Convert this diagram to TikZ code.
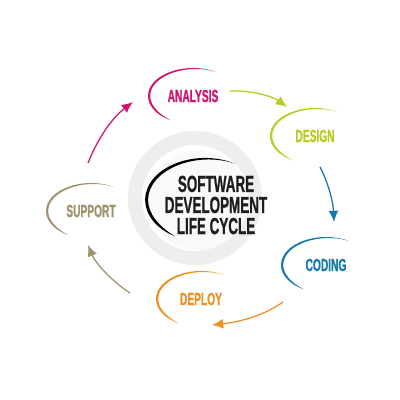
\documentclass[tikz,border=0pt]{standalone}
\usepackage{fontspec}
\setmainfont{Liberation Sans}[BoldFeatures={FakeBold=1.2}]
\usetikzlibrary{arrows.meta}

\definecolor{analysiscol}{RGB}{206,22,112}
\definecolor{designcol}{RGB}{184,204,32}
\definecolor{codingcol}{RGB}{22,122,168}
\definecolor{deploycol}{RGB}{236,146,32}
\definecolor{supportcol}{RGB}{160,148,110}
\definecolor{titlecol}{RGB}{30,30,30}

% condensed capitals
\newcommand{\cond}[1]{\scalebox{0.58}[1]{#1}}

\tikzset{
  stage/.style={font=\fontsize{12.5}{12.5}\selectfont\bfseries, inner sep=0pt},
  flow/.style={line width=0.9pt, -{Latex[length=8pt,width=7pt]}},
  swoosh/.pic={
    \fill (22.5,-24.25) .. controls (-7.5,-35) and (-45,-21.55) .. (-45,0)
      .. controls (-45,10) and (-36.4,19.2) .. (-22.5,24.25)
      .. controls (-35,17.5) and (-42.8,9) .. (-42.8,0)
      .. controls (-42.8,-20) and (-7,-33) .. (22.5,-24.25) -- cycle;
  }
}

\begin{document}
\begin{tikzpicture}[x=0.025cm, y=-0.025cm]
    \fill[white] (0,0) rectangle (400,400);
    \useasboundingbox (0,0) rectangle (400,400);
    % the grey swirl in the middle
    \draw[gray!13, line width=0.35cm] (195,198) circle [radius=60];
    \fill[gray!5] (198,200) circle [radius=50];
    % the black swoosh and the title
    \pic[color=black, xscale=1.33, yscale=1.5] at (205,200) {swoosh};
    \node[font=\fontsize{16.5}{15}\selectfont\bfseries, text=titlecol, align=center,
          inner sep=0pt] (sdlc) at (216,205)
          {\cond{SOFTWARE}\\\cond{DEVELOPMENT}\\\cond{LIFE CYCLE}};
    % the stages
    \node[stage, text=analysiscol] (analysis) at (193,96) {\cond{ANALYSIS}};
    \node[stage, text=designcol] (design) at (315,136) {\cond{DESIGN}};
    \node[stage, text=codingcol] (coding) at (326,265) {\cond{CODING}};
    \node[stage, text=deploycol] (deploy) at (201,299) {\cond{DEPLOY}};
    \node[stage, text=supportcol] (support) at (91,211) {\cond{SUPPORT}};
    % the swooshes round the stages
    \pic[color=analysiscol] at (analysis) {swoosh};
    \pic[color=designcol] at (design) {swoosh};
    \pic[color=codingcol] at (coding) {swoosh};
    \pic[color=deploycol] at (deploy) {swoosh};
    \pic[color=supportcol] at (support) {swoosh};
    % ends of the arrows
    \coordinate (s1) at (88,163);  \coordinate (e1) at (133,102);
    \coordinate (s2) at (230,91);  \coordinate (e2) at (287,107);
    \coordinate (s3) at (320,167); \coordinate (e3) at (334,222);
    \coordinate (s4) at (283,302); \coordinate (e4) at (212,325);
    \coordinate (s5) at (130,293); \coordinate (e5) at (88,245);
    % draw the arrows
    \draw[flow, analysiscol] (s1) .. controls (98,138) and (112,118) .. (e1);
    \draw[flow, designcol] (s2) .. controls (250,90) and (272,96) .. (e2);
    \draw[flow, codingcol] (s3) .. controls (327,180) and (333,200) .. (e3);
    \draw[flow, deploycol] (s4) .. controls (265,315) and (240,322) .. (e4);
    \draw[flow, supportcol] (s5) .. controls (110,280) and (95,262) .. (e5);
\end{tikzpicture}
\end{document}
